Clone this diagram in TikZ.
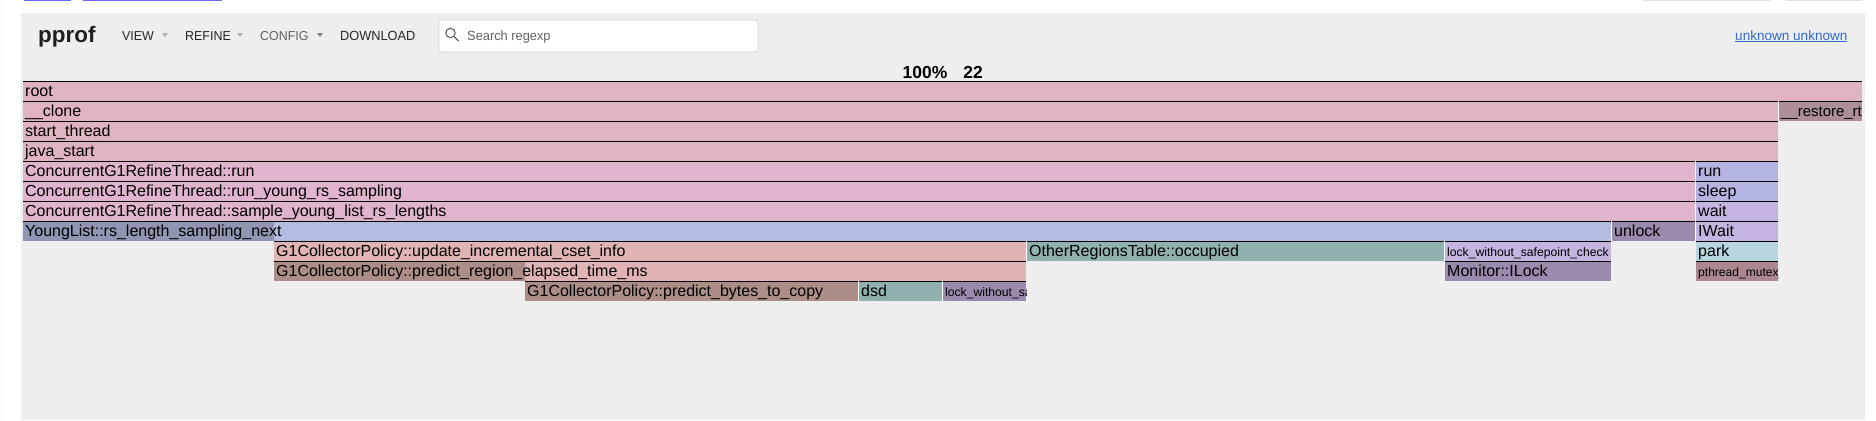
\documentclass[tikz,border=0pt]{standalone}
\usepackage{fontspec}
\setmainfont{Liberation Sans}
\newfontfamily\navfont[FakeStretch=0.96]{Liberation Sans}
\definecolor{bgpage}{HTML}{EEEEEE}
\definecolor{cRoot}{HTML}{DFB4C0}
\definecolor{cRun}{HTML}{DFB4CC}
\definecolor{cBlue}{HTML}{B3BBDF}
\definecolor{cBlueDk}{HTML}{8F95B2}
\definecolor{cSalmon}{HTML}{E0B4B4}
\definecolor{cBrown}{HTML}{AC8D88}
\definecolor{cTeal}{HTML}{90B1AD}
\definecolor{cPurpleDk}{HTML}{9A8AAE}
\definecolor{cPurple}{HTML}{C4B4E0}
\definecolor{cPeri}{HTML}{B4B4E0}
\definecolor{cPark}{HTML}{B8D6E0}
\definecolor{cMutex}{HTML}{AC8790}
\definecolor{cRestore}{HTML}{AC8D98}
\definecolor{cLink}{HTML}{3367D6}
\newcommand{\px}[1]{\fontsize{#1}{#1}\selectfont}
\tikzset{
  x=1bp,y=-1bp,
  ftext/.style={anchor=base west,inner sep=0pt,text=black},
  navtext/.style={anchor=base west,inner sep=0pt,font=\navfont\px{13},text=black!85},
  caret/.style={fill=black!30,draw=none},
}
% \fr{name}{x1}{x2}{ytop}{colour}{font size}{text}
\newcommand{\fr}[7]{%
  \fill[#5] (#2,#4) rectangle (#3,#4+20);
  \draw[black,line width=1bp] (#2,#4+0.5) -- (#3,#4+0.5);
  \begin{scope}
    \clip (#2,#4) rectangle (#3,#4+20);
    \node[ftext,font=\px{#6}] (#1) at (#2+2,#4+15) {#7};
  \end{scope}}
\newcommand{\gap}[2]{\draw[white,line width=1bp] (#1+0.5,#2) -- (#1+0.5,#2+20);}
\begin{document}
\begin{tikzpicture}
\useasboundingbox (0,0) rectangle (1876,420);
\fill[white] (0,0) rectangle (1876,420);
\fill[black!2!blue!1!white] (0,0) rectangle (5,420);
\fill[bgpage] (21,13) rectangle (1865,420);
% clipped page elements at the top edge
\fill[blue!60!white] (24,0) rectangle (71,1.2);
\fill[blue!60!white] (83,0) rectangle (222,1.2);
\fill[black!12] (1643,0) rectangle (1771,1);
\fill[black!12] (1786,0) rectangle (1862,1);
% header
\node[anchor=base west,inner sep=0pt,font=\bfseries\px{22.5},text=black!88] (logo) at (38,42) {pprof};
\node[navtext] (view) at (122,40) {VIEW};
\fill[caret] (162,33) -- (168,33) -- (165,37) -- cycle;
\node[navtext] (refine) at (185,40) {REFINE};
\fill[caret] (237,33) -- (243,33) -- (240,37) -- cycle;
\node[navtext,text=black!62] (config) at (260,40) {CONFIG};
\fill[black!50] (317,33) -- (323,33) -- (320,37) -- cycle;
\node[navtext,font=\navfont\px{13.35}] (download) at (340,40) {DOWNLOAD};
\node[draw=black!18,fill=white,rounded corners=1.5bp,minimum width=319bp,minimum height=32bp,inner sep=0pt,anchor=north west,line width=0.8bp] (search) at (438.5,19.5) {};
\node[anchor=base west,inner sep=0pt,font=\navfont\px{13.4},text=black!62] (searchtxt) at (467,40) {Search regexp};
\draw[black!62,line width=1.1bp] (450.5,33) circle (4.7);
\draw[black!62,line width=1.3bp] (454,36.5) -- (458.5,41);
\node[anchor=base west,inner sep=0pt,font=\px{13.6},text=cLink] (link) at (1735,40) {\underline{unknown unknown}};
% title
\node[anchor=base,inner sep=0pt,font=\bfseries\px{17.5}] (pct) at (925,78) {100\%};
\node[anchor=base,inner sep=0pt,font=\bfseries\px{17.5}] (cnt) at (973,78) {22};
% frames
\fr{root}{23}{1862}{81}{cRoot}{16.05}{root}
\fr{clone}{23}{1778}{101}{cRoot}{16.05}{\_\_clone}
\fr{restore}{1779}{1862}{101}{cRestore}{15}{\_\_restore\_rt}
\gap{1778}{101}
\fr{start}{23}{1778}{121}{cRoot}{16.05}{start\_thread}
\fr{java}{23}{1778}{141}{cRoot}{16.05}{java\_start}
\fr{crun}{23}{1695}{161}{cRun}{16.05}{ConcurrentG1RefineThread::run}
\fr{runb}{1696}{1778}{161}{cPeri}{16.05}{run}
\fr{crys}{23}{1695}{181}{cRun}{16.05}{ConcurrentG1RefineThread::run\_young\_rs\_sampling}
\fr{sleep}{1696}{1778}{181}{cPeri}{16.05}{sleep}
\fr{csy}{23}{1695}{201}{cRun}{16.05}{ConcurrentG1RefineThread::sample\_young\_list\_rs\_lengths}
\fr{wait}{1696}{1778}{201}{cPurple}{16.05}{wait}
\fill[cBlue] (23,221) rectangle (1611,241);
\fill[cBlueDk] (23,221) rectangle (274,241);
\draw[black,line width=1bp] (23,221.5) -- (1611,221.5);
\node[ftext,font=\px{16.05}] (young) at (25,236) {YoungList::rs\_length\_sampling\_next};
\fr{unlock}{1612}{1695}{221}{cPurpleDk}{16.05}{unlock}
\fr{iwait}{1696}{1778}{221}{cPurple}{16.05}{IWait}
\gap{1695}{161}\gap{1695}{181}\gap{1695}{201}\gap{1695}{221}\gap{1611}{221}
\fr{upd}{274}{1026}{241}{cSalmon}{16.05}{G1CollectorPolicy::update\_incremental\_cset\_info}
\fr{occ}{1027}{1444}{241}{cTeal}{16.05}{OtherRegionsTable::occupied}
\fr{lwsc}{1445}{1611}{241}{cPurple}{12.2}{lock\_without\_safepoint\_check}
\fr{park}{1696}{1778}{241}{cPark}{16.05}{park}
\gap{1026}{241}\gap{1444}{241}
\fill[cSalmon] (274,261) rectangle (1026,281);
\fill[cBrown] (274,261) rectangle (525,281);
\draw[black,line width=1bp] (274,261.5) -- (1026,261.5);
\node[ftext,font=\px{16.05}] (pred) at (276,276) {G1CollectorPolicy::predict\_region\_elapsed\_time\_ms};
\fr{ilock}{1445}{1611}{261}{cPurpleDk}{16.05}{Monitor::ILock}
\fr{mutex}{1696}{1778}{261}{cMutex}{12.1}{pthread\_mutex\_lock}
\fr{bytes}{525}{858}{281}{cBrown}{16.05}{G1CollectorPolicy::predict\_bytes\_to\_copy}
\fr{dsd}{859}{942}{281}{cTeal}{16.05}{dsd}
\fr{lws}{943}{1026}{281}{cPurpleDk}{12.2}{lock\_without\_safepoint\_check}
\gap{858}{281}\gap{942}{281}
\end{tikzpicture}
\end{document}
